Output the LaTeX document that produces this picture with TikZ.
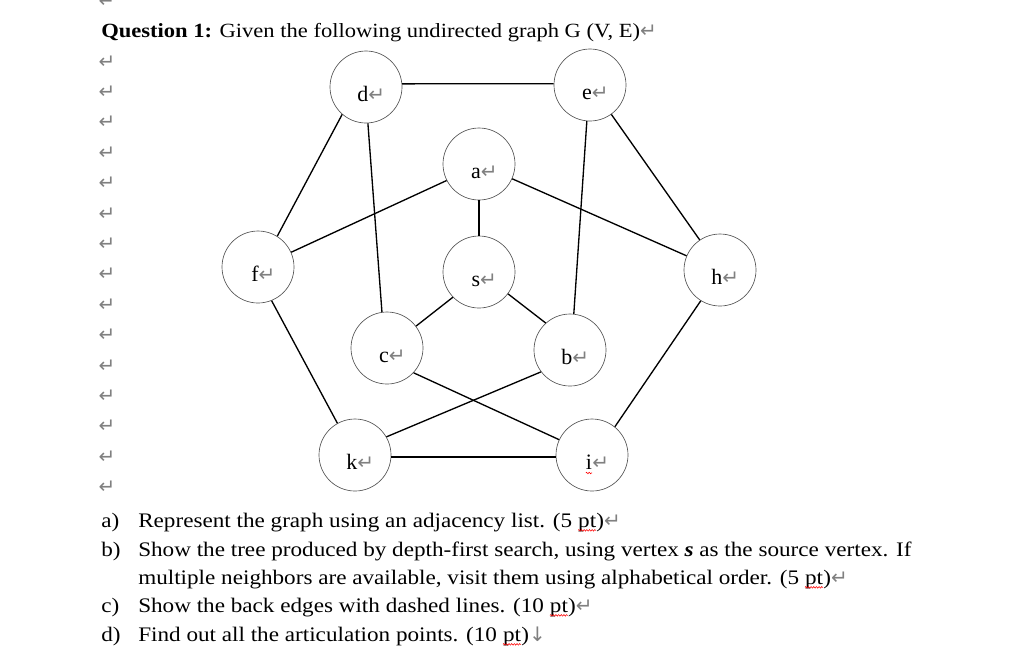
\documentclass[tikz,border=0pt]{standalone}
\usepackage{fontspec}
\setmainfont[FakeStretch=1.12]{Liberation Serif}
\newfontfamily\nodefont{Liberation Serif}
\newfontfamily\marksfont{DejaVu Sans}
\usetikzlibrary{shapes.geometric,decorations.pathmorphing}

\definecolor{markgray}{RGB}{128,128,128}
\definecolor{ringgray}{RGB}{85,85,85}
\newcommand{\ret}{{\marksfont\color{markgray}\fontsize{15}{15}\selectfont ↵}}
\newcommand{\brk}{{\marksfont\color{markgray}\fontsize{15}{15}\selectfont ↓}}
\newcommand{\redwave}[1]{\tikz[baseline=(wv.base)]{\node[rectangle, draw=none, minimum size=0pt, anchor=base, inner sep=0pt, outer sep=0pt] (wv) at (0pt,0pt) {#1};
  \draw[red, line width=0.4pt, decorate, decoration={zigzag, amplitude=0.6pt, segment length=2pt}] ([yshift=-2.5pt]wv.base west) -- ([yshift=-2.5pt]wv.base east);}}
\newcommand{\vlab}[1]{\hspace{8pt}\raisebox{-11pt}[0pt][0pt]{\nodefont\fontsize{16.5}{16.5}\selectfont #1\ret}}

\tikzset{
  vertex/.style={circle, draw=ringgray, line width=0.5pt, minimum size=54pt, inner sep=0pt},
  link/.style={line width=1pt},
  txt/.style={anchor=base west, inner sep=0pt, font=\fontsize{15.5}{18}\selectfont},
  pmark/.style={inner sep=0pt}
}

\begin{document}
\begin{tikzpicture}[x=0.75pt, y=-0.75pt]
    \useasboundingbox (0,0) rectangle (1024,662);
    % PARAGRAPH MARKS
    \foreach \k in {0,2,3,...,16}
      \node[pmark] (ret\k) at (107, {30.4*\k+1}) {\ret};
    % TITLE
    \node[txt, font=\fontsize{15.1}{18}\selectfont] (quest) at (101,37.7) {\textbf{Question 1:} Given the following undirected graph G (V, E)\ret};
    % VERTICES
    \node[vertex] (d) at (366,87) {\vlab{d}};
    \node[vertex] (e) at (590,85) {\vlab{e}};
    \node[vertex] (a) at (479,164) {\vlab{a}};
    \node[vertex] (f) at (258,267) {\vlab{f}};
    \node[vertex] (s) at (479,272) {\vlab{s}};
    \node[vertex] (h) at (720,270) {\vlab{h}};
    \node[vertex] (c) at (387,348) {\vlab{c}};
    \node[vertex] (b) at (570,350) {\vlab{b}};
    \node[vertex] (k) at (355,455) {\vlab{k}};
    \node[vertex] (i) at (592,455) {\vlab{\redwave{i}}};
    % OUTER RING
    \draw[link] (d.5) -- (e.178);
    \draw[link] (d.229) -- (f.58);
    \draw[link] (e.306) -- (h.124);
    \draw[link] (f.292) -- (k.119);
    \draw[link] (h.238) -- (i.51);
    \draw[link] (k.-3) -- (i.183);
    % SPOKES
    \draw[link] (d.273) -- (c.98);
    \draw[link] (e.265) -- (b.84);
    \draw[link] (a.207) -- (f.24);
    \draw[link] (a.336) -- (h.157);
    \draw[link] (c.317) -- (i.155);
    \draw[link] (b.217) -- (k.30);
    % INNER STAR
    \draw[link] (a.south) -- (s.north);
    \draw[link] (s.224) -- (c.37);
    \draw[link] (s.323) -- (b.132);
    % QUESTIONS
    \node[txt] (qa) at (101,527) {a)};
    \node[txt] (qatext) at (138,527) {Represent the graph using an adjacency list. (5 \redwave{pt})\ret};
    \node[txt] (qb) at (101,556) {b)};
    \node[txt] (qbtext) at (138,556) {Show the tree produced by depth-first search, using vertex \textbf{\textit{s}} as the source vertex. If};
    \node[txt] (qbmore) at (138,584) {multiple neighbors are available, visit them using alphabetical order. (5 \redwave{pt})\ret};
    \node[txt] (qc) at (101,612) {c)};
    \node[txt] (qctext) at (138,612) {Show the back edges with dashed lines. (10 \redwave{pt})\ret};
    \node[txt] (qd) at (101,641) {d)};
    \node[txt] (qdtext) at (138,641) {Find out all the articulation points. (10 \redwave{pt})\brk};
\end{tikzpicture}
\end{document}
